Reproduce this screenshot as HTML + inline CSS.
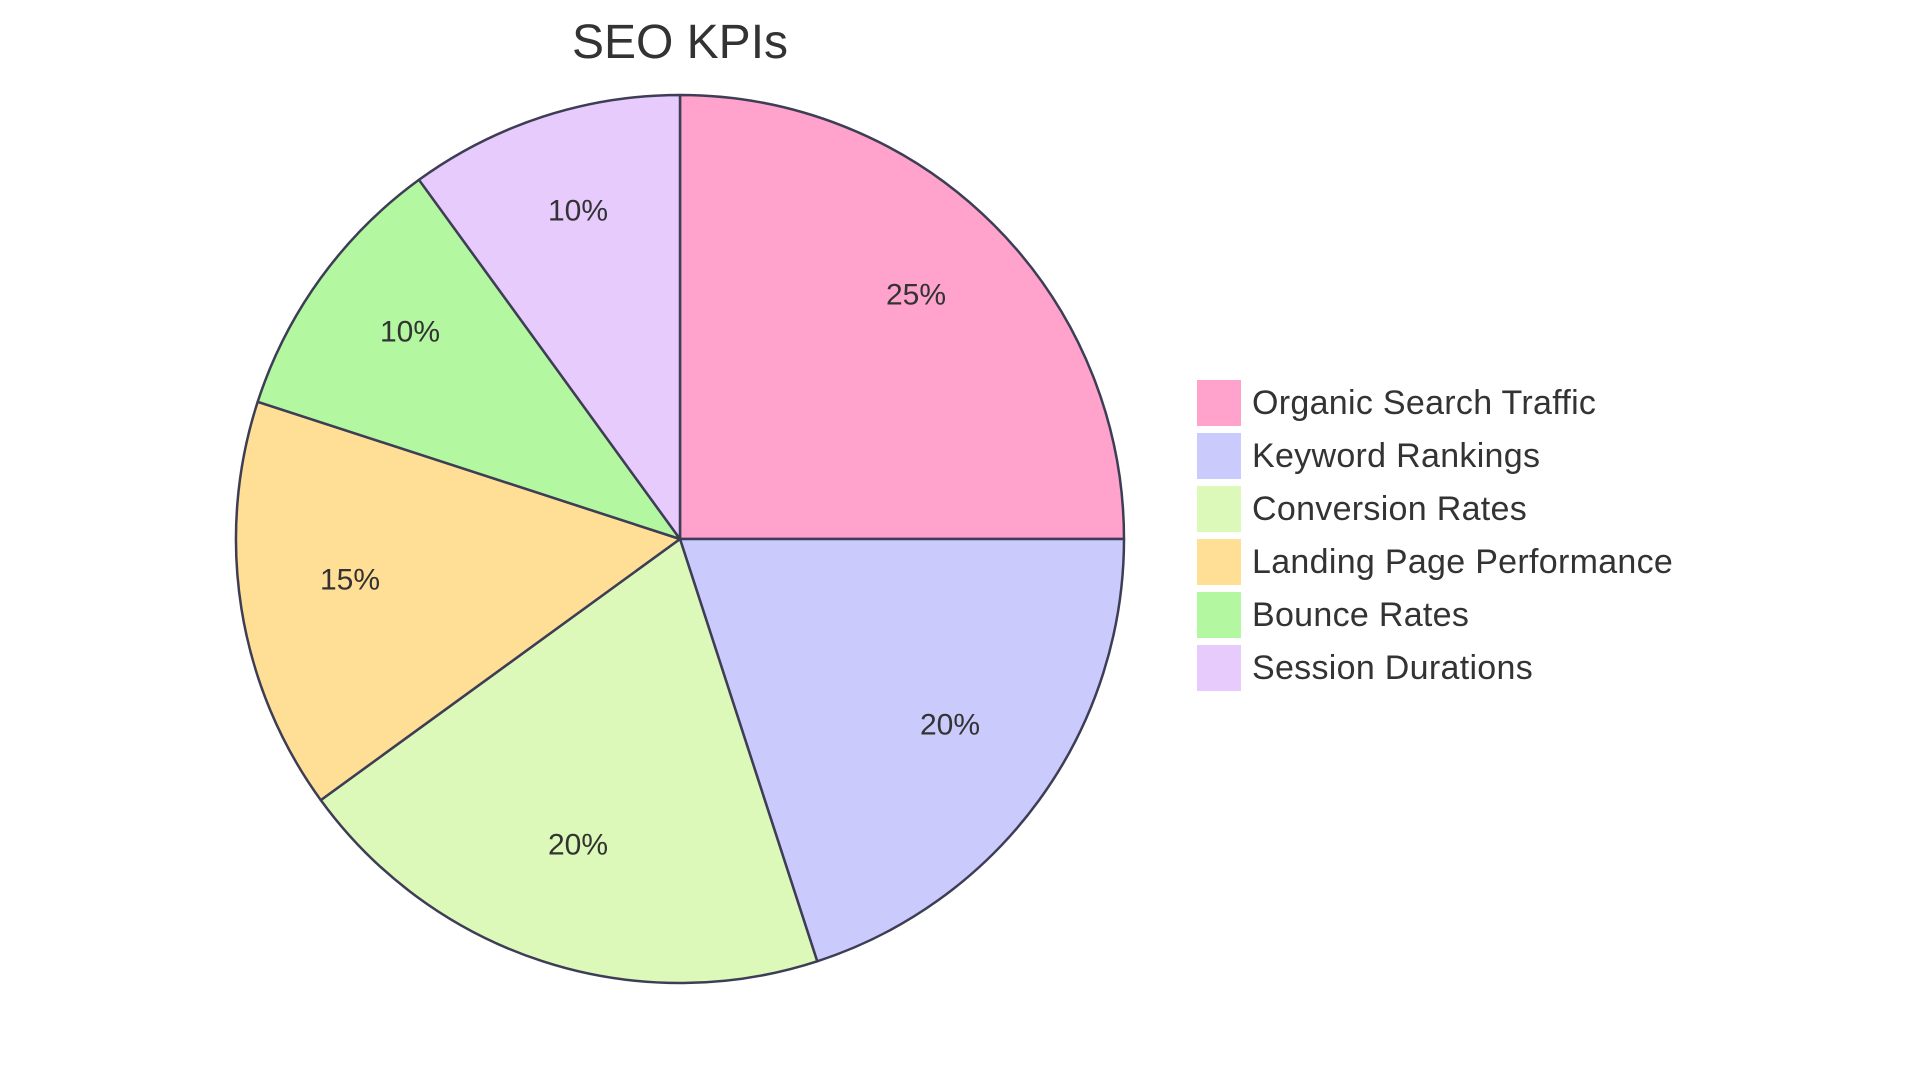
<!DOCTYPE html>
<html><head><meta charset="utf-8"><style>
html,body{margin:0;padding:0;background:#fff;width:1920px;height:1080px;overflow:hidden}
svg{display:block;font-family:"Liberation Sans",sans-serif}
</style></head><body>
<svg width="1920" height="1080" viewBox="0 0 1920 1080">
<text x="680" y="58" text-anchor="middle" font-size="48" fill="#333">SEO KPIs</text>
<g stroke="#3d3d55" stroke-width="2.5" stroke-linejoin="round">
<path d="M680,539 L680,95 A444,444 0 0 1 1124,539 Z" fill="#FFA3CD"/>
<path d="M680,539 L1124,539 A444,444 0 0 1 817.2,961.3 Z" fill="#CACAFD"/>
<path d="M680,539 L817.2,961.3 A444,444 0 0 1 320.8,800.1 Z" fill="#DDF9B9"/>
<path d="M680,539 L320.8,800.1 A444,444 0 0 1 257.7,401.8 Z" fill="#FFDE95"/>
<path d="M680,539 L257.7,401.8 A444,444 0 0 1 419.0,179.8 Z" fill="#B3F8A0"/>
<path d="M680,539 L419.0,179.8 A444,444 0 0 1 680,95 Z" fill="#E8CBFD"/>
</g>
<g font-size="30" fill="#333" text-anchor="middle" dominant-baseline="central">
<text x="916" y="295">25%</text>
<text x="950" y="725">20%</text>
<text x="578" y="845">20%</text>
<text x="350" y="580">15%</text>
<text x="410" y="332">10%</text>
<text x="578" y="211">10%</text>
</g>
<g>
<rect x="1197" y="380" width="44" height="46" fill="#FFA3CD"/>
<rect x="1197" y="433" width="44" height="46" fill="#CACAFD"/>
<rect x="1197" y="486" width="44" height="46" fill="#DDF9B9"/>
<rect x="1197" y="539" width="44" height="46" fill="#FFDE95"/>
<rect x="1197" y="592" width="44" height="46" fill="#B3F8A0"/>
<rect x="1197" y="645" width="44" height="46" fill="#E8CBFD"/>
</g>
<g font-size="34" fill="#333" letter-spacing="0.3">
<text x="1252" y="414">Organic Search Traffic</text>
<text x="1252" y="467">Keyword Rankings</text>
<text x="1252" y="520">Conversion Rates</text>
<text x="1252" y="573">Landing Page Performance</text>
<text x="1252" y="626">Bounce Rates</text>
<text x="1252" y="679">Session Durations</text>
</g>
</svg>
</body></html>
